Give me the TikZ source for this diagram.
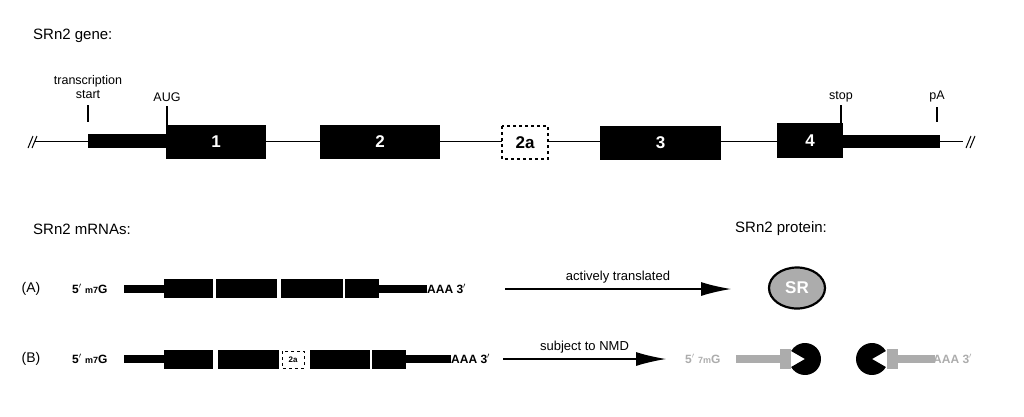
\documentclass[tikz,border=0pt]{standalone}
\usepackage{fontspec}
\setmainfont{Liberation Sans}
\usetikzlibrary{arrows.meta,shapes.geometric}
\begin{document}
\begin{tikzpicture}[x=1pt,y=-1pt,
  exnum/.style={text=white,font=\fontsize{17}{17}\selectfont\bfseries},
  tick/.style={line width=1.6pt},
  lbl/.style={font=\fontsize{12.5}{14}\selectfont,align=center,inner sep=0pt},
  ttl/.style={font=\fontsize{15}{17}\selectfont,anchor=west,inner sep=0pt},
  capl/.style={font=\fontsize{12}{12}\selectfont\bfseries,inner sep=0pt},
  arr/.style={line width=1.2pt,-{Latex[length=30pt,width=14pt]}},
]
\useasboundingbox (0,0) rectangle (1024,416);
% titles
\node[ttl] (t1) at (33,36) {SRn2 gene:};
\node[ttl] (t2) at (33,229) {SRn2 mRNAs:};
\node[ttl] (t3) at (735,229) {SRn2 protein:};
% gene
\draw[line width=0.9pt] (35,141) -- (963,141);
\draw[line width=1pt] (28,148) -- (33,136) (32,148) -- (37,136);
\draw[line width=1pt] (966,148) -- (971,136) (970,148) -- (975,136);
\fill (88,134) rectangle (167,148);
\fill (843,135) rectangle (940,148);
\fill (166,125) rectangle (266,159) node[exnum,midway] {1};
\fill (320,125) rectangle (440,159) node[exnum,midway] {2};
\draw[dashed,line width=1.3pt,fill=white] (502,126) rectangle (548,159) node[midway,font=\fontsize{17}{17}\selectfont\bfseries] {2a};
\fill (600,126) rectangle (721,160) node[exnum,midway] {3};
\fill (777,123) rectangle (843,158) node[exnum,midway] {4};
\draw[tick] (88,105) -- (88,122);
\draw[tick] (167,106) -- (167,125);
\draw[tick] (841,105) -- (841,123);
\draw[tick] (937,107) -- (937,122);
\node[lbl,anchor=south] (ts) at (88,99) {transcription\\start};
\node[lbl,anchor=south] (aug) at (167,102) {AUG};
\node[lbl,anchor=south] (stop) at (841,102) {stop};
\node[lbl,anchor=south] (pa) at (937,102) {pA};
% mRNA A
\node[font=\fontsize{14}{14}\selectfont,inner sep=0pt] (la) at (31,289) {(A)};
\node[capl,anchor=west] (a5) at (72,289) {5$'$ {\fontsize{9}{9}\selectfont m7}G};
\fill (124,285) rectangle (164,293);
\fill (379,285) rectangle (427,293);
\fill (164,279) rectangle (213,298);
\fill (216,279) rectangle (277,298);
\fill (281,279) rectangle (343,298);
\fill (345,279) rectangle (379,298);
\node[capl,anchor=west] (a3) at (427,289) {AAA 3$'$};
\coordinate (aa) at (505,289);
\coordinate (ab) at (731,289);
\draw[arr] (aa) -- (ab) node[midway,above=5pt,lbl,font=\fontsize{13}{14}\selectfont] {actively translated};
\node[ellipse,draw,line width=2.2pt,fill=gray!65,minimum width=56pt,minimum height=41pt,inner sep=0pt,text=white,font=\fontsize{17}{17}\selectfont\bfseries] (sr) at (797,288) {SR};
% mRNA B
\node[font=\fontsize{14}{14}\selectfont,inner sep=0pt] (lb) at (31,359) {(B)};
\node[capl,anchor=west] (b5) at (72,359) {5$'$ {\fontsize{9}{9}\selectfont m7}G};
\fill (124,355) rectangle (164,363);
\fill (406,355) rectangle (451,363);
\fill (164,350) rectangle (213,369);
\fill (218,350) rectangle (279,369);
\draw[dashed,line width=1pt] (282,351) rectangle (304,368) node[midway,font=\fontsize{8}{8}\selectfont\bfseries] {2a};
\fill (310,350) rectangle (370,369);
\fill (372,350) rectangle (406,369);
\node[capl,anchor=west] (b3) at (451,359) {AAA 3$'$};
\coordinate (ba) at (503,359);
\coordinate (bb) at (666,359);
\draw[arr] (ba) -- (bb) node[midway,above=5pt,lbl,font=\fontsize{13}{14}\selectfont] {subject to NMD};
% degraded
\node[capl,anchor=west,text=gray!65] (d5) at (685,359) {5$'$ {\fontsize{9}{9}\selectfont 7m}G};
\fill[gray!65] (736,355) rectangle (780,363);
\fill[gray!65] (780,349) rectangle (791,369);
\fill (805,359) -- ++(150:16) arc (150:-150:16) -- cycle;
\fill (872,359) -- ++(30:16) arc (30:330:16) -- cycle;
\fill[gray!65] (887,349) rectangle (898,369);
\fill[gray!65] (898,355) rectangle (935,363);
\node[capl,anchor=west,text=gray!65] (d3) at (933,359) {AAA 3$'$};
\end{tikzpicture}
\end{document}
